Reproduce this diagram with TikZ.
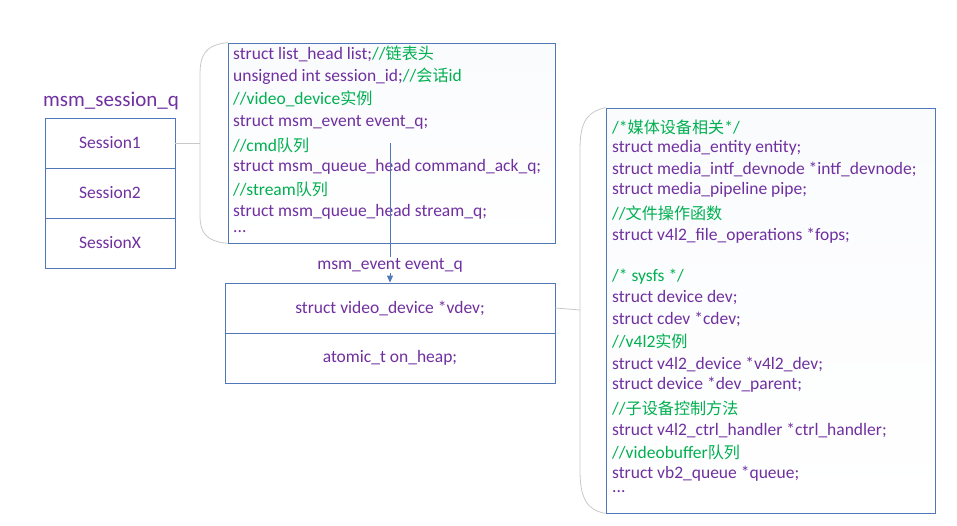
\documentclass[tikz,border=0pt]{standalone}
\usepackage{fontspec}
\usetikzlibrary{arrows.meta}
\setmainfont{Carlito}
\newfontfamily\cjk{Noto Sans CJK SC}[Scale=0.92]
\definecolor{pur}{RGB}{112,48,160}
\definecolor{grn}{RGB}{0,176,80}
\definecolor{bl}{RGB}{80,120,185}
\definecolor{gr}{RGB}{200,200,200}
\begin{document}
\begin{tikzpicture}[x=1pt,y=-1pt,
  box/.style={draw=bl,line width=0.8pt},
  codetxt/.style={anchor=west,inner sep=0pt,font=\fontsize{17.5}{19}\selectfont,text=pur},
  cmttxt/.style={codetxt,text=grn},
  brk/.style={draw=gr,line width=0.8pt}]
\useasboundingbox (0,0) rectangle (957,525);
\node[text=pur,font=\fontsize{21}{23}\selectfont,anchor=west,inner sep=0] (title) at (43,101) {msm\_session\_q};
\foreach \n/\t [count=\i] in {s1/Session1,s2/Session2,sx/SessionX}{
  \node[box,fill=white,minimum width=130,minimum height=50,inner sep=0,text=pur,font=\fontsize{17.5}{19}\selectfont] (\n) at (110,93+50*\i) {\t};
}
% top struct box
\shade[top color=white!90!bl!30,bottom color=white] (228,43) rectangle (555,243);
\node[box,minimum width=327,minimum height=200,inner sep=0] (top) at (391.5,143) {};
\draw[brk] (s1.east) -- (200,143) coordinate (b1);
\draw[brk] (top.north west) .. controls (205,45) and (200,55) .. (200,75) -- (200,215) .. controls (200,232) and (205,241) .. (top.south west);
\foreach \y/\s/\st in {
 54/{struct list\_head list;{\color{grn}//{\cjk 链表头}}}/codetxt,
 76/{unsigned int session\_id;{\color{grn}//{\cjk 会话}id}}/codetxt,
 99/{//video\_device{\cjk 实例}}/cmttxt,
 122/{struct msm\_event event\_q;}/codetxt,
 145/{//cmd{\cjk 队列}}/cmttxt,
 167/{struct msm\_queue\_head command\_ack\_q;}/codetxt,
 189/{//stream{\cjk 队列}}/cmttxt,
 212/{struct msm\_queue\_head stream\_q;}/codetxt,
 232/{...}/codetxt}
 \node[\st] at (233,\y) {\s};
% middle boxes
\node[box,fill=white,minimum width=330,minimum height=50,inner sep=0,text=pur,font=\fontsize{17.5}{19}\selectfont] (vdev) at (390,308) {struct video\_device *vdev;};
\node[box,fill=white,minimum width=330,minimum height=50,inner sep=0,text=pur,font=\fontsize{17.5}{19}\selectfont] (heap) at (390,358) {atomic\_t on\_heap;};
\coordinate (a0) at (390,143);
\draw[bl,line width=0.8pt,-{Triangle[length=7pt,width=6pt]}] (a0) -- (vdev.north);
\node[fill=white,text=pur,font=\fontsize{17.5}{19}\selectfont,inner sep=1pt] (lbl) at (390,265) {msm\_event event\_q};
% right box
\shade[top color=white!90!bl!30,bottom color=white] (606,108) rectangle (935,513);
\node[box,minimum width=329,minimum height=405,inner sep=0] (right) at (770.5,310.5) {};
\draw[brk] (vdev.east) -- (580,310);
\draw[brk] (right.north west) .. controls (585,112) and (580,125) .. (580,150) -- (580,470) .. controls (580,495) and (585,510) .. (right.south west);
\foreach \y/\s/\st in {
 127/{/*{\cjk 媒体设备相关}*/}/cmttxt,
 148/{struct media\_entity entity;}/codetxt,
 169/{struct media\_intf\_devnode *intf\_devnode;}/codetxt,
 190/{struct media\_pipeline pipe;}/codetxt,
 213/{//{\cjk 文件操作函数}}/cmttxt,
 236/{struct v4l2\_file\_operations *fops;}/codetxt,
 277/{/* sysfs */}/cmttxt,
 298/{struct device dev;}/codetxt,
 319/{struct cdev *cdev;}/codetxt,
 341/{//v4l2{\cjk 实例}}/cmttxt,
 364/{struct v4l2\_device *v4l2\_dev;}/codetxt,
 385/{struct device *dev\_parent;}/codetxt,
 408/{//{\cjk 子设备控制方法}}/cmttxt,
 430/{struct v4l2\_ctrl\_handler *ctrl\_handler;}/codetxt,
 452/{//videobuffer{\cjk 队列}}/cmttxt,
 474/{struct vb2\_queue *queue;}/codetxt,
 492/{...}/codetxt}
 \node[\st] at (612,\y) {\s};
\end{tikzpicture}
\end{document}
